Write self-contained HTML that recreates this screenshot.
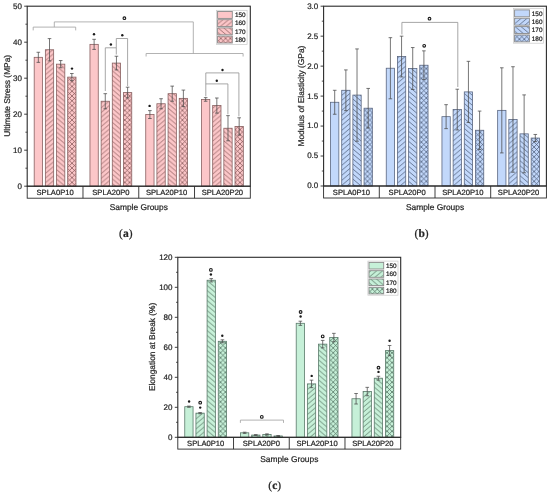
<!DOCTYPE html><html><head><meta charset="utf-8"><title>Figure</title><style>html,body{margin:0;padding:0;background:#fff;}body{width:550px;height:492px;overflow:hidden;}svg{display:block;will-change:transform;}svg text{stroke:#262626;stroke-width:0.22px;text-rendering:geometricPrecision;}</style></head><body><svg width="550" height="492" viewBox="0 0 550 492" font-family='"Liberation Sans", sans-serif' fill="#262626"><defs><pattern id="pink160" patternUnits="userSpaceOnUse" width="5.6" height="4.7"><rect width="5.6" height="4.7" fill="#fcc6c8"/><path d="M-1.4,1.18 L1.4,-1.18 M0,4.7 L5.6,0 M4.2,5.88 L7,3.53 " stroke="#7e5050" stroke-width="0.7"/></pattern><pattern id="pink170" patternUnits="userSpaceOnUse" width="5.6" height="4.7"><rect width="5.6" height="4.7" fill="#fcc6c8"/><path d="M-1.4,3.53 L1.4,5.88 M0,0 L5.6,4.7 M4.2,-1.18 L7,1.18" stroke="#7e5050" stroke-width="0.7"/></pattern><pattern id="pink180" patternUnits="userSpaceOnUse" width="4.8" height="4.8"><rect width="4.8" height="4.8" fill="#fcc6c8"/><path d="M-1.2,1.2 L1.2,-1.2 M0,4.8 L4.8,0 M3.6,6 L6,3.6 M-1.2,3.6 L1.2,6 M0,0 L4.8,4.8 M3.6,-1.2 L6,1.2" stroke="#7e5050" stroke-width="0.7"/></pattern><pattern id="blue160" patternUnits="userSpaceOnUse" width="5.9" height="5"><rect width="5.9" height="5" fill="#c2d8fb"/><path d="M-1.48,1.25 L1.48,-1.25 M0,5 L5.9,0 M4.43,6.25 L7.38,3.75 " stroke="#44526e" stroke-width="0.7"/></pattern><pattern id="blue170" patternUnits="userSpaceOnUse" width="5.9" height="5"><rect width="5.9" height="5" fill="#c2d8fb"/><path d="M-1.48,3.75 L1.48,6.25 M0,0 L5.9,5 M4.43,-1.25 L7.38,1.25" stroke="#44526e" stroke-width="0.7"/></pattern><pattern id="blue180" patternUnits="userSpaceOnUse" width="4.9" height="4.9"><rect width="4.9" height="4.9" fill="#c2d8fb"/><path d="M-1.23,1.23 L1.23,-1.23 M0,4.9 L4.9,0 M3.68,6.12 L6.12,3.68 M-1.23,3.68 L1.23,6.12 M0,0 L4.9,4.9 M3.68,-1.23 L6.12,1.23" stroke="#44526e" stroke-width="0.7"/></pattern><pattern id="green160" patternUnits="userSpaceOnUse" width="5.9" height="5"><rect width="5.9" height="5" fill="#c6f0d8"/><path d="M-1.48,1.25 L1.48,-1.25 M0,5 L5.9,0 M4.43,6.25 L7.38,3.75 " stroke="#486656" stroke-width="0.7"/></pattern><pattern id="green170" patternUnits="userSpaceOnUse" width="5.9" height="5"><rect width="5.9" height="5" fill="#c6f0d8"/><path d="M-1.48,3.75 L1.48,6.25 M0,0 L5.9,5 M4.43,-1.25 L7.38,1.25" stroke="#486656" stroke-width="0.7"/></pattern><pattern id="green180" patternUnits="userSpaceOnUse" width="4.9" height="4.9"><rect width="4.9" height="4.9" fill="#c6f0d8"/><path d="M-1.23,1.23 L1.23,-1.23 M0,4.9 L4.9,0 M3.68,6.12 L6.12,3.68 M-1.23,3.68 L1.23,6.12 M0,0 L4.9,4.9 M3.68,-1.23 L6.12,1.23" stroke="#486656" stroke-width="0.7"/></pattern></defs><rect width="550" height="492" fill="#fff"/><rect x="34.19" y="57.32" width="8.3" height="128.88" fill="#fcc6c8" stroke="#886060" stroke-width="0.8"/><path d="M38.34,52.28V62.36M36.54,52.28H40.14M36.54,62.36H40.14" stroke="#4a4a4a" stroke-width="0.75" fill="none"/><rect x="45.36" y="49.76" width="8.3" height="136.44" fill="url(#pink160)" stroke="#886060" stroke-width="0.8"/><path d="M49.51,38.6V60.92M47.71,38.6H51.31M47.71,60.92H51.31" stroke="#4a4a4a" stroke-width="0.75" fill="none"/><rect x="56.52" y="64.16" width="8.3" height="122.04" fill="url(#pink170)" stroke="#886060" stroke-width="0.8"/><path d="M60.67,60.56V67.76M58.87,60.56H62.47M58.87,67.76H62.47" stroke="#4a4a4a" stroke-width="0.75" fill="none"/><rect x="67.69" y="77.12" width="8.3" height="109.08" fill="url(#pink180)" stroke="#886060" stroke-width="0.8"/><path d="M71.84,73.52V80.72M70.04,73.52H73.64M70.04,80.72H73.64" stroke="#4a4a4a" stroke-width="0.75" fill="none"/><rect x="89.96" y="44.36" width="8.3" height="141.84" fill="#fcc6c8" stroke="#886060" stroke-width="0.8"/><path d="M94.11,39.32V49.4M92.31,39.32H95.91M92.31,49.4H95.91" stroke="#4a4a4a" stroke-width="0.75" fill="none"/><rect x="101.13" y="101.24" width="8.3" height="84.96" fill="url(#pink160)" stroke="#886060" stroke-width="0.8"/><path d="M105.28,93.68V108.8M103.48,93.68H107.08M103.48,108.8H107.08" stroke="#4a4a4a" stroke-width="0.75" fill="none"/><rect x="112.29" y="63.08" width="8.3" height="123.12" fill="url(#pink170)" stroke="#886060" stroke-width="0.8"/><path d="M116.44,56.24V69.92M114.64,56.24H118.24M114.64,69.92H118.24" stroke="#4a4a4a" stroke-width="0.75" fill="none"/><rect x="123.46" y="92.6" width="8.3" height="93.6" fill="url(#pink180)" stroke="#886060" stroke-width="0.8"/><path d="M127.61,87.2V98M125.81,87.2H129.41M125.81,98H129.41" stroke="#4a4a4a" stroke-width="0.75" fill="none"/><rect x="145.74" y="114.56" width="8.3" height="71.64" fill="#fcc6c8" stroke="#886060" stroke-width="0.8"/><path d="M149.89,110.6V118.52M148.09,110.6H151.69M148.09,118.52H151.69" stroke="#4a4a4a" stroke-width="0.75" fill="none"/><rect x="156.91" y="103.76" width="8.3" height="82.44" fill="url(#pink160)" stroke="#886060" stroke-width="0.8"/><path d="M161.06,98.72V108.8M159.26,98.72H162.86M159.26,108.8H162.86" stroke="#4a4a4a" stroke-width="0.75" fill="none"/><rect x="168.07" y="93.68" width="8.3" height="92.52" fill="url(#pink170)" stroke="#886060" stroke-width="0.8"/><path d="M172.22,86.12V101.24M170.42,86.12H174.02M170.42,101.24H174.02" stroke="#4a4a4a" stroke-width="0.75" fill="none"/><rect x="179.24" y="98.36" width="8.3" height="87.84" fill="url(#pink180)" stroke="#886060" stroke-width="0.8"/><path d="M183.39,90.08V106.64M181.59,90.08H185.19M181.59,106.64H185.19" stroke="#4a4a4a" stroke-width="0.75" fill="none"/><rect x="201.51" y="99.44" width="8.3" height="86.76" fill="#fcc6c8" stroke="#886060" stroke-width="0.8"/><path d="M205.66,97.64V101.24M203.86,97.64H207.46M203.86,101.24H207.46" stroke="#4a4a4a" stroke-width="0.75" fill="none"/><rect x="212.68" y="105.56" width="8.3" height="80.64" fill="url(#pink160)" stroke="#886060" stroke-width="0.8"/><path d="M216.83,98V113.12M215.03,98H218.63M215.03,113.12H218.63" stroke="#4a4a4a" stroke-width="0.75" fill="none"/><rect x="223.84" y="128.24" width="8.3" height="57.96" fill="url(#pink170)" stroke="#886060" stroke-width="0.8"/><path d="M227.99,115.64V140.84M226.19,115.64H229.79M226.19,140.84H229.79" stroke="#4a4a4a" stroke-width="0.75" fill="none"/><rect x="235.01" y="126.44" width="8.3" height="59.76" fill="url(#pink180)" stroke="#886060" stroke-width="0.8"/><path d="M239.16,117.8V135.08M237.36,117.8H240.96M237.36,135.08H240.96" stroke="#4a4a4a" stroke-width="0.75" fill="none"/><rect x="27.2" y="6.2" width="223.1" height="180" fill="none" stroke="#2a2a2a" stroke-width="1.1"/><rect x="27.2" y="186.2" width="223.1" height="12" fill="none" stroke="#2a2a2a" stroke-width="0.9"/><line x1="82.98" y1="186.2" x2="82.98" y2="198.2" stroke="#2a2a2a" stroke-width="0.9"/><line x1="138.75" y1="186.2" x2="138.75" y2="198.2" stroke="#2a2a2a" stroke-width="0.9"/><line x1="194.53" y1="186.2" x2="194.53" y2="198.2" stroke="#2a2a2a" stroke-width="0.9"/><text x="55.09" y="194.9" font-size="7.6" text-anchor="middle">SPLA0P10</text><text x="110.86" y="194.9" font-size="7.6" text-anchor="middle">SPLA20P0</text><text x="166.64" y="194.9" font-size="7.6" text-anchor="middle">SPLA20P10</text><text x="222.41" y="194.9" font-size="7.6" text-anchor="middle">SPLA20P20</text><line x1="24.2" y1="186.2" x2="27.2" y2="186.2" stroke="#2a2a2a" stroke-width="0.9"/><text x="21.9" y="188.6" font-size="8.0" text-anchor="end">0</text><line x1="25.4" y1="168.2" x2="27.2" y2="168.2" stroke="#2a2a2a" stroke-width="0.8"/><line x1="24.2" y1="150.2" x2="27.2" y2="150.2" stroke="#2a2a2a" stroke-width="0.9"/><text x="21.9" y="152.6" font-size="8.0" text-anchor="end">10</text><line x1="25.4" y1="132.2" x2="27.2" y2="132.2" stroke="#2a2a2a" stroke-width="0.8"/><line x1="24.2" y1="114.2" x2="27.2" y2="114.2" stroke="#2a2a2a" stroke-width="0.9"/><text x="21.9" y="116.6" font-size="8.0" text-anchor="end">20</text><line x1="25.4" y1="96.2" x2="27.2" y2="96.2" stroke="#2a2a2a" stroke-width="0.8"/><line x1="24.2" y1="78.2" x2="27.2" y2="78.2" stroke="#2a2a2a" stroke-width="0.9"/><text x="21.9" y="80.6" font-size="8.0" text-anchor="end">30</text><line x1="25.4" y1="60.2" x2="27.2" y2="60.2" stroke="#2a2a2a" stroke-width="0.8"/><line x1="24.2" y1="42.2" x2="27.2" y2="42.2" stroke="#2a2a2a" stroke-width="0.9"/><text x="21.9" y="44.6" font-size="8.0" text-anchor="end">40</text><line x1="25.4" y1="24.2" x2="27.2" y2="24.2" stroke="#2a2a2a" stroke-width="0.8"/><line x1="24.2" y1="6.2" x2="27.2" y2="6.2" stroke="#2a2a2a" stroke-width="0.9"/><text x="21.9" y="8.6" font-size="8.0" text-anchor="end">50</text><text transform="translate(9.5,95.8) rotate(-90)" font-size="8.4" text-anchor="middle">Ultimate Stress (MPa)</text><text x="138.75" y="210.3" font-size="8.4" text-anchor="middle">Sample Groups</text><rect x="216.4" y="10.3" width="30.7" height="34.2" fill="#fff" stroke="#c8c8c8" stroke-width="0.7"/><rect x="217.6" y="11.5" width="14.7" height="6.9" fill="#fcc6c8" stroke="#8a8a8a" stroke-width="0.9"/><text x="235" y="17.25" font-size="6.4">150</text><rect x="217.6" y="19.7" width="14.7" height="6.9" fill="url(#pink160)" stroke="#8a8a8a" stroke-width="0.9"/><text x="235" y="25.45" font-size="6.4">160</text><rect x="217.6" y="27.9" width="14.7" height="6.9" fill="url(#pink170)" stroke="#8a8a8a" stroke-width="0.9"/><text x="235" y="33.65" font-size="6.4">170</text><rect x="217.6" y="36.1" width="14.7" height="6.9" fill="url(#pink180)" stroke="#8a8a8a" stroke-width="0.9"/><text x="235" y="41.85" font-size="6.4">180</text><path d="M33.2,30.4V27.1H75.7V30.4M54.3,27.1V21.9H193.3V53.5M146.1,56.5V53.5H243.1V56.5" stroke="#a0a0a0" stroke-width="0.8" fill="none"/><circle cx="124.4" cy="18.2" r="1.35" fill="none" stroke="#1a1a1a" stroke-width="1.1"/><circle cx="72" cy="68.6" r="1.2" fill="#1a1a1a"/><circle cx="94" cy="34.3" r="1.2" fill="#1a1a1a"/><path d="M105.3,91V47.8H116.3V54.5M116.3,47.8V38.5H127.6V86" stroke="#909090" stroke-width="0.8" fill="none"/><circle cx="110.9" cy="44.5" r="1.2" fill="#1a1a1a"/><circle cx="122.3" cy="35.3" r="1.2" fill="#1a1a1a"/><circle cx="149.6" cy="105.9" r="1.2" fill="#1a1a1a"/><path d="M205.8,96.3V72.9H238.9V116.3" stroke="#909090" stroke-width="0.8" fill="none"/><path d="M205.8,83.9H227.9V114.3" stroke="#909090" stroke-width="0.8" fill="none"/><circle cx="222.5" cy="70" r="1.2" fill="#1a1a1a"/><circle cx="216.8" cy="80.8" r="1.2" fill="#1a1a1a"/><rect x="330.55" y="102.27" width="8.3" height="83.73" fill="#c2d8fb" stroke="#5a6680" stroke-width="0.8"/><path d="M334.7,90.29V114.26M332.9,90.29H336.5M332.9,114.26H336.5" stroke="#4a4a4a" stroke-width="0.75" fill="none"/><rect x="341.72" y="90.29" width="8.3" height="95.71" fill="url(#blue160)" stroke="#5a6680" stroke-width="0.8"/><path d="M345.87,69.91V110.66M344.07,69.91H347.67M344.07,110.66H347.67" stroke="#4a4a4a" stroke-width="0.75" fill="none"/><rect x="352.88" y="95.08" width="8.3" height="90.92" fill="url(#blue170)" stroke="#5a6680" stroke-width="0.8"/><path d="M357.03,48.93V141.23M355.23,48.93H358.83M355.23,141.23H358.83" stroke="#4a4a4a" stroke-width="0.75" fill="none"/><rect x="364.05" y="108.21" width="8.3" height="77.79" fill="url(#blue180)" stroke="#5a6680" stroke-width="0.8"/><path d="M368.2,88.43V127.98M366.4,88.43H370M366.4,127.98H370" stroke="#4a4a4a" stroke-width="0.75" fill="none"/><rect x="386.25" y="68.23" width="8.3" height="117.77" fill="#c2d8fb" stroke="#5a6680" stroke-width="0.8"/><path d="M390.4,37.66V98.8M388.6,37.66H392.2M388.6,98.8H392.2" stroke="#4a4a4a" stroke-width="0.75" fill="none"/><rect x="397.42" y="56.54" width="8.3" height="129.46" fill="url(#blue160)" stroke="#5a6680" stroke-width="0.8"/><path d="M401.57,36.17V76.92M399.77,36.17H403.37M399.77,76.92H403.37" stroke="#4a4a4a" stroke-width="0.75" fill="none"/><rect x="408.58" y="68.53" width="8.3" height="117.47" fill="url(#blue170)" stroke="#5a6680" stroke-width="0.8"/><path d="M412.73,47.55V89.51M410.93,47.55H414.53M410.93,89.51H414.53" stroke="#4a4a4a" stroke-width="0.75" fill="none"/><rect x="419.75" y="65.23" width="8.3" height="120.77" fill="url(#blue180)" stroke="#5a6680" stroke-width="0.8"/><path d="M423.9,50.85V79.62M422.1,50.85H425.7M422.1,79.62H425.7" stroke="#4a4a4a" stroke-width="0.75" fill="none"/><rect x="441.95" y="116.66" width="8.3" height="69.34" fill="#c2d8fb" stroke="#5a6680" stroke-width="0.8"/><path d="M446.1,104.67V128.64M444.3,104.67H447.9M444.3,128.64H447.9" stroke="#4a4a4a" stroke-width="0.75" fill="none"/><rect x="453.12" y="109.58" width="8.3" height="76.42" fill="url(#blue160)" stroke="#5a6680" stroke-width="0.8"/><path d="M457.27,89.21V129.96M455.47,89.21H459.07M455.47,129.96H459.07" stroke="#4a4a4a" stroke-width="0.75" fill="none"/><rect x="464.28" y="91.9" width="8.3" height="94.1" fill="url(#blue170)" stroke="#5a6680" stroke-width="0.8"/><path d="M468.43,61.34V122.47M466.63,61.34H470.23M466.63,122.47H470.23" stroke="#4a4a4a" stroke-width="0.75" fill="none"/><rect x="475.45" y="130.26" width="8.3" height="55.74" fill="url(#blue180)" stroke="#5a6680" stroke-width="0.8"/><path d="M479.6,111.08V149.44M477.8,111.08H481.4M477.8,149.44H481.4" stroke="#4a4a4a" stroke-width="0.75" fill="none"/><rect x="497.65" y="110.36" width="8.3" height="75.64" fill="#c2d8fb" stroke="#5a6680" stroke-width="0.8"/><path d="M501.8,67.81V152.92M500,67.81H503.6M500,152.92H503.6" stroke="#4a4a4a" stroke-width="0.75" fill="none"/><rect x="508.82" y="119.47" width="8.3" height="66.53" fill="url(#blue160)" stroke="#5a6680" stroke-width="0.8"/><path d="M512.97,66.73V172.22M511.17,66.73H514.77M511.17,172.22H514.77" stroke="#4a4a4a" stroke-width="0.75" fill="none"/><rect x="519.98" y="133.86" width="8.3" height="52.14" fill="url(#blue170)" stroke="#5a6680" stroke-width="0.8"/><path d="M524.13,94.9V172.81M522.33,94.9H525.93M522.33,172.81H525.93" stroke="#4a4a4a" stroke-width="0.75" fill="none"/><rect x="531.15" y="138.05" width="8.3" height="47.95" fill="url(#blue180)" stroke="#5a6680" stroke-width="0.8"/><path d="M535.3,134.46V141.65M533.5,134.46H537.1M533.5,141.65H537.1" stroke="#4a4a4a" stroke-width="0.75" fill="none"/><rect x="323.6" y="6.2" width="222.8" height="179.8" fill="none" stroke="#2a2a2a" stroke-width="1.1"/><rect x="323.6" y="186" width="222.8" height="12" fill="none" stroke="#2a2a2a" stroke-width="0.9"/><line x1="379.3" y1="186" x2="379.3" y2="198" stroke="#2a2a2a" stroke-width="0.9"/><line x1="435" y1="186" x2="435" y2="198" stroke="#2a2a2a" stroke-width="0.9"/><line x1="490.7" y1="186" x2="490.7" y2="198" stroke="#2a2a2a" stroke-width="0.9"/><text x="351.45" y="194.7" font-size="7.6" text-anchor="middle">SPLA0P10</text><text x="407.15" y="194.7" font-size="7.6" text-anchor="middle">SPLA20P0</text><text x="462.85" y="194.7" font-size="7.6" text-anchor="middle">SPLA20P10</text><text x="518.55" y="194.7" font-size="7.6" text-anchor="middle">SPLA20P20</text><line x1="320.6" y1="186" x2="323.6" y2="186" stroke="#2a2a2a" stroke-width="0.9"/><text x="318.3" y="188.4" font-size="8.0" text-anchor="end">0.0</text><line x1="321.8" y1="171.02" x2="323.6" y2="171.02" stroke="#2a2a2a" stroke-width="0.8"/><line x1="320.6" y1="156.03" x2="323.6" y2="156.03" stroke="#2a2a2a" stroke-width="0.9"/><text x="318.3" y="158.43" font-size="8.0" text-anchor="end">0.5</text><line x1="321.8" y1="141.05" x2="323.6" y2="141.05" stroke="#2a2a2a" stroke-width="0.8"/><line x1="320.6" y1="126.07" x2="323.6" y2="126.07" stroke="#2a2a2a" stroke-width="0.9"/><text x="318.3" y="128.47" font-size="8.0" text-anchor="end">1.0</text><line x1="321.8" y1="111.08" x2="323.6" y2="111.08" stroke="#2a2a2a" stroke-width="0.8"/><line x1="320.6" y1="96.1" x2="323.6" y2="96.1" stroke="#2a2a2a" stroke-width="0.9"/><text x="318.3" y="98.5" font-size="8.0" text-anchor="end">1.5</text><line x1="321.8" y1="81.12" x2="323.6" y2="81.12" stroke="#2a2a2a" stroke-width="0.8"/><line x1="320.6" y1="66.13" x2="323.6" y2="66.13" stroke="#2a2a2a" stroke-width="0.9"/><text x="318.3" y="68.53" font-size="8.0" text-anchor="end">2.0</text><line x1="321.8" y1="51.15" x2="323.6" y2="51.15" stroke="#2a2a2a" stroke-width="0.8"/><line x1="320.6" y1="36.17" x2="323.6" y2="36.17" stroke="#2a2a2a" stroke-width="0.9"/><text x="318.3" y="38.57" font-size="8.0" text-anchor="end">2.5</text><line x1="321.8" y1="21.18" x2="323.6" y2="21.18" stroke="#2a2a2a" stroke-width="0.8"/><line x1="320.6" y1="6.2" x2="323.6" y2="6.2" stroke="#2a2a2a" stroke-width="0.9"/><text x="318.3" y="8.6" font-size="8.0" text-anchor="end">3.0</text><text transform="translate(303.5,96.1) rotate(-90)" font-size="8.4" text-anchor="middle">Modulus of Elasticity (GPa)</text><text x="435" y="210.3" font-size="8.4" text-anchor="middle">Sample Groups</text><rect x="513.6" y="8.6" width="29.8" height="34.6" fill="#fff" stroke="#c8c8c8" stroke-width="0.7"/><rect x="514.6" y="9.9" width="14.8" height="6.9" fill="#c2d8fb" stroke="#8a8a8a" stroke-width="0.9"/><text x="531.8" y="15.65" font-size="6.4">150</text><rect x="514.6" y="18.25" width="14.8" height="6.9" fill="url(#blue160)" stroke="#8a8a8a" stroke-width="0.9"/><text x="531.8" y="24" font-size="6.4">160</text><rect x="514.6" y="26.6" width="14.8" height="6.9" fill="url(#blue170)" stroke="#8a8a8a" stroke-width="0.9"/><text x="531.8" y="32.35" font-size="6.4">170</text><rect x="514.6" y="34.95" width="14.8" height="6.9" fill="url(#blue180)" stroke="#8a8a8a" stroke-width="0.9"/><text x="531.8" y="40.7" font-size="6.4">180</text><path d="M401.9,34.5V22.4H457.8V87" stroke="#909090" stroke-width="0.8" fill="none"/><circle cx="429.5" cy="18.7" r="1.35" fill="none" stroke="#1a1a1a" stroke-width="1.1"/><circle cx="424.2" cy="45.8" r="1.35" fill="none" stroke="#1a1a1a" stroke-width="1.1"/><rect x="184.76" y="406.7" width="8.3" height="30.6" fill="#c6f0d8" stroke="#5a7a6a" stroke-width="0.8"/><path d="M188.91,406.1V407.3M187.11,406.1H190.71M187.11,407.3H190.71" stroke="#4a4a4a" stroke-width="0.75" fill="none"/><rect x="195.93" y="413.15" width="8.3" height="24.15" fill="url(#green160)" stroke="#5a7a6a" stroke-width="0.8"/><path d="M200.08,412.55V413.75M198.28,412.55H201.88M198.28,413.75H201.88" stroke="#4a4a4a" stroke-width="0.75" fill="none"/><rect x="207.09" y="280.25" width="8.3" height="157.05" fill="url(#green170)" stroke="#5a7a6a" stroke-width="0.8"/><path d="M211.24,278.6V281.9M209.44,278.6H213.04M209.44,281.9H213.04" stroke="#4a4a4a" stroke-width="0.75" fill="none"/><rect x="218.26" y="341.3" width="8.3" height="96" fill="url(#green180)" stroke="#5a7a6a" stroke-width="0.8"/><path d="M222.41,339.8V342.8M220.61,339.8H224.21M220.61,342.8H224.21" stroke="#4a4a4a" stroke-width="0.75" fill="none"/><rect x="240.49" y="432.8" width="8.3" height="4.5" fill="#c6f0d8" stroke="#5a7a6a" stroke-width="0.8"/><path d="M244.64,432.2V433.4M242.84,432.2H246.44M242.84,433.4H246.44" stroke="#4a4a4a" stroke-width="0.75" fill="none"/><rect x="251.66" y="435.05" width="8.3" height="2.25" fill="url(#green160)" stroke="#5a7a6a" stroke-width="0.8"/><path d="M255.81,434.6V435.5M254.01,434.6H257.61M254.01,435.5H257.61" stroke="#4a4a4a" stroke-width="0.75" fill="none"/><rect x="262.82" y="434.45" width="8.3" height="2.85" fill="url(#green170)" stroke="#5a7a6a" stroke-width="0.8"/><path d="M266.97,433.85V435.05M265.17,433.85H268.77M265.17,435.05H268.77" stroke="#4a4a4a" stroke-width="0.75" fill="none"/><rect x="273.99" y="435.95" width="8.3" height="1.35" fill="url(#green180)" stroke="#5a7a6a" stroke-width="0.8"/><path d="M278.14,435.5V436.4M276.34,435.5H279.94M276.34,436.4H279.94" stroke="#4a4a4a" stroke-width="0.75" fill="none"/><rect x="296.21" y="323.3" width="8.3" height="114" fill="#c6f0d8" stroke="#5a7a6a" stroke-width="0.8"/><path d="M300.36,321.2V325.4M298.56,321.2H302.16M298.56,325.4H302.16" stroke="#4a4a4a" stroke-width="0.75" fill="none"/><rect x="307.38" y="383.9" width="8.3" height="53.4" fill="url(#green160)" stroke="#5a7a6a" stroke-width="0.8"/><path d="M311.53,380.15V387.65M309.73,380.15H313.33M309.73,387.65H313.33" stroke="#4a4a4a" stroke-width="0.75" fill="none"/><rect x="318.54" y="344.15" width="8.3" height="93.15" fill="url(#green170)" stroke="#5a7a6a" stroke-width="0.8"/><path d="M322.69,340.4V347.9M320.89,340.4H324.49M320.89,347.9H324.49" stroke="#4a4a4a" stroke-width="0.75" fill="none"/><rect x="329.71" y="337.55" width="8.3" height="99.75" fill="url(#green180)" stroke="#5a7a6a" stroke-width="0.8"/><path d="M333.86,333.35V341.75M332.06,333.35H335.66M332.06,341.75H335.66" stroke="#4a4a4a" stroke-width="0.75" fill="none"/><rect x="351.94" y="398.75" width="8.3" height="38.55" fill="#c6f0d8" stroke="#5a7a6a" stroke-width="0.8"/><path d="M356.09,393.5V404M354.29,393.5H357.89M354.29,404H357.89" stroke="#4a4a4a" stroke-width="0.75" fill="none"/><rect x="363.11" y="391.55" width="8.3" height="45.75" fill="url(#green160)" stroke="#5a7a6a" stroke-width="0.8"/><path d="M367.26,387.35V395.75M365.46,387.35H369.06M365.46,395.75H369.06" stroke="#4a4a4a" stroke-width="0.75" fill="none"/><rect x="374.27" y="378.2" width="8.3" height="59.1" fill="url(#green170)" stroke="#5a7a6a" stroke-width="0.8"/><path d="M378.42,376.25V380.15M376.62,376.25H380.22M376.62,380.15H380.22" stroke="#4a4a4a" stroke-width="0.75" fill="none"/><rect x="385.44" y="350.6" width="8.3" height="86.7" fill="url(#green180)" stroke="#5a7a6a" stroke-width="0.8"/><path d="M389.59,345.5V355.7M387.79,345.5H391.39M387.79,355.7H391.39" stroke="#4a4a4a" stroke-width="0.75" fill="none"/><rect x="177.8" y="257.3" width="222.9" height="180" fill="none" stroke="#2a2a2a" stroke-width="1.1"/><rect x="177.8" y="437.3" width="222.9" height="11.8" fill="none" stroke="#2a2a2a" stroke-width="0.9"/><line x1="233.53" y1="437.3" x2="233.53" y2="449.1" stroke="#2a2a2a" stroke-width="0.9"/><line x1="289.25" y1="437.3" x2="289.25" y2="449.1" stroke="#2a2a2a" stroke-width="0.9"/><line x1="344.98" y1="437.3" x2="344.98" y2="449.1" stroke="#2a2a2a" stroke-width="0.9"/><text x="205.66" y="445.9" font-size="7.6" text-anchor="middle">SPLA0P10</text><text x="261.39" y="445.9" font-size="7.6" text-anchor="middle">SPLA20P0</text><text x="317.11" y="445.9" font-size="7.6" text-anchor="middle">SPLA20P10</text><text x="372.84" y="445.9" font-size="7.6" text-anchor="middle">SPLA20P20</text><line x1="174.8" y1="437.3" x2="177.8" y2="437.3" stroke="#2a2a2a" stroke-width="0.9"/><text x="172.5" y="439.7" font-size="8.0" text-anchor="end">0</text><line x1="176" y1="422.3" x2="177.8" y2="422.3" stroke="#2a2a2a" stroke-width="0.8"/><line x1="174.8" y1="407.3" x2="177.8" y2="407.3" stroke="#2a2a2a" stroke-width="0.9"/><text x="172.5" y="409.7" font-size="8.0" text-anchor="end">20</text><line x1="176" y1="392.3" x2="177.8" y2="392.3" stroke="#2a2a2a" stroke-width="0.8"/><line x1="174.8" y1="377.3" x2="177.8" y2="377.3" stroke="#2a2a2a" stroke-width="0.9"/><text x="172.5" y="379.7" font-size="8.0" text-anchor="end">40</text><line x1="176" y1="362.3" x2="177.8" y2="362.3" stroke="#2a2a2a" stroke-width="0.8"/><line x1="174.8" y1="347.3" x2="177.8" y2="347.3" stroke="#2a2a2a" stroke-width="0.9"/><text x="172.5" y="349.7" font-size="8.0" text-anchor="end">60</text><line x1="176" y1="332.3" x2="177.8" y2="332.3" stroke="#2a2a2a" stroke-width="0.8"/><line x1="174.8" y1="317.3" x2="177.8" y2="317.3" stroke="#2a2a2a" stroke-width="0.9"/><text x="172.5" y="319.7" font-size="8.0" text-anchor="end">80</text><line x1="176" y1="302.3" x2="177.8" y2="302.3" stroke="#2a2a2a" stroke-width="0.8"/><line x1="174.8" y1="287.3" x2="177.8" y2="287.3" stroke="#2a2a2a" stroke-width="0.9"/><text x="172.5" y="289.7" font-size="8.0" text-anchor="end">100</text><line x1="176" y1="272.3" x2="177.8" y2="272.3" stroke="#2a2a2a" stroke-width="0.8"/><line x1="174.8" y1="257.3" x2="177.8" y2="257.3" stroke="#2a2a2a" stroke-width="0.9"/><text x="172.5" y="259.7" font-size="8.0" text-anchor="end">120</text><text transform="translate(155.3,346.9) rotate(-90)" font-size="8.4" text-anchor="middle">Elongation at Break (%)</text><text x="289.25" y="461.5" font-size="8.4" text-anchor="middle">Sample Groups</text><rect x="367.9" y="261.1" width="30.1" height="34.1" fill="#fff" stroke="#c8c8c8" stroke-width="0.7"/><rect x="369" y="262.4" width="14.7" height="6.6" fill="#c6f0d8" stroke="#8a8a8a" stroke-width="0.9"/><text x="386" y="268" font-size="6.4">150</text><rect x="369" y="270.7" width="14.7" height="6.6" fill="url(#green160)" stroke="#8a8a8a" stroke-width="0.9"/><text x="386" y="276.3" font-size="6.4">160</text><rect x="369" y="279" width="14.7" height="6.6" fill="url(#green170)" stroke="#8a8a8a" stroke-width="0.9"/><text x="386" y="284.6" font-size="6.4">170</text><rect x="369" y="287.3" width="14.7" height="6.6" fill="url(#green180)" stroke="#8a8a8a" stroke-width="0.9"/><text x="386" y="292.9" font-size="6.4">180</text><circle cx="189.1" cy="401.5" r="1.2" fill="#1a1a1a"/><circle cx="200.2" cy="402.7" r="1.35" fill="none" stroke="#1a1a1a" stroke-width="1.1"/><circle cx="200.2" cy="407.6" r="1.2" fill="#1a1a1a"/><circle cx="210.9" cy="269.9" r="1.35" fill="none" stroke="#1a1a1a" stroke-width="1.1"/><circle cx="210.9" cy="274.5" r="1.2" fill="#1a1a1a"/><circle cx="222.3" cy="335.8" r="1.2" fill="#1a1a1a"/><path d="M240.4,422.9V420.1H283.5V422.9" stroke="#a0a0a0" stroke-width="0.8" fill="none"/><circle cx="261.8" cy="416.9" r="1.35" fill="none" stroke="#1a1a1a" stroke-width="1.1"/><circle cx="300.6" cy="312" r="1.35" fill="none" stroke="#1a1a1a" stroke-width="1.1"/><circle cx="300.6" cy="316.5" r="1.2" fill="#1a1a1a"/><circle cx="311.7" cy="375.9" r="1.2" fill="#1a1a1a"/><circle cx="322.7" cy="336.4" r="1.35" fill="none" stroke="#1a1a1a" stroke-width="1.1"/><circle cx="378.5" cy="367.7" r="1.35" fill="none" stroke="#1a1a1a" stroke-width="1.1"/><circle cx="378.5" cy="371.9" r="1.2" fill="#1a1a1a"/><circle cx="389.6" cy="340.7" r="1.2" fill="#1a1a1a"/><text x="125.8" y="237.1" font-family='"Liberation Serif", serif' font-size="11.5" text-anchor="middle">(<tspan font-weight="bold">a</tspan>)</text><text x="421.6" y="237.1" font-family='"Liberation Serif", serif' font-size="11.5" text-anchor="middle">(<tspan font-weight="bold">b</tspan>)</text><text x="274.7" y="488.6" font-family='"Liberation Serif", serif' font-size="11.5" text-anchor="middle">(<tspan font-weight="bold">c</tspan>)</text></svg></body></html>
